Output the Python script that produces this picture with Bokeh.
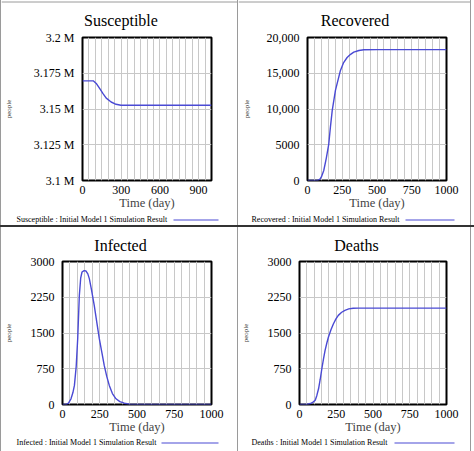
from bokeh.plotting import figure
from bokeh.layouts import column, row
from bokeh.models import Range1d, FixedTicker, Div
from bokeh.core.properties import value
from bokeh.embed import file_html
from bokeh.resources import INLINE

FONT = "'Liberation Serif', 'Times New Roman', serif"
LINE_COLOR = "#4a4ad4"
BORDER_GRAY = "#9a9a9a"

# ---- data ----
sus_t = [0, 50, 83, 109, 134, 159, 184, 222, 260, 298, 400, 600, 800, 1000]
sus_v = [3.1697e6, 3.1697e6, 3.1697e6, 3.1676e6, 3.1642e6, 3.1607e6, 3.1576e6,
         3.1549e6, 3.1533e6, 3.1526e6, 3.1526e6, 3.1526e6, 3.1526e6, 3.1526e6]

rec_t = [0, 50, 70, 88, 100, 117, 135, 153, 165, 178, 201, 237, 260, 285, 310, 333, 370, 405, 500, 1000]
rec_v = [0, 0, 0, 150, 500, 1400, 3100, 5100, 7500, 9800, 12600, 15400, 16500, 17200, 17650, 17950, 18180, 18280, 18300, 18300]

inf_t = [0, 23, 40, 57, 70, 80, 92, 102, 113, 122, 131, 145, 158, 170, 180, 195, 213, 230, 247, 265, 280, 297, 314, 335, 359, 385, 415, 450, 1000]
inf_v = [0, 0, 30, 120, 250, 400, 800, 1380, 2290, 2650, 2780, 2810, 2800, 2740, 2640, 2400, 2080, 1730, 1380, 1080, 820, 590, 400, 230, 120, 60, 27, 5, 0]

dea_t = [0, 50, 74, 90, 107, 118, 130, 141, 152, 163, 174, 186, 197, 214, 231, 248, 264, 287, 309, 335, 365, 400, 1000]
dea_v = [0, 0, 20, 45, 90, 190, 335, 530, 750, 950, 1137, 1290, 1415, 1570, 1695, 1795, 1870, 1935, 1975, 2005, 2020, 2022, 2022]

sus_yticks = [3.1e6, 3.125e6, 3.15e6, 3.175e6, 3.2e6]
sus_ylabels = ["3.1 M", "3.125 M", "3.15 M", "3.175 M", "3.2 M"]
rec_yticks = [0, 5000, 10000, 15000, 20000]
rec_ylabels = ["0", "5000", "10,000", "15,000", "20,000"]
id_yticks = [0, 750, 1500, 2250, 3000]
id_ylabels = ["0", "750", "1500", "2250", "3000"]
x_ticks_sus = [0, 300, 600, 900]
x_ticks_std = [0, 250, 500, 750, 1000]
grid_x = list(range(0, 1001, 50))

legend_suffix = " : Initial Model 1 Simulation Result"


def blank(w, h):
    f = figure(width=w, height=h, output_backend="svg", toolbar_location=None,
               x_range=Range1d(0, w), y_range=Range1d(h, 0),
               x_axis_type=None, y_axis_type=None,
               min_border=0, min_border_left=0, min_border_right=0,
               min_border_top=0, min_border_bottom=0,
               background_fill_color="white", border_fill_color="white")
    f.frame_align = False
    f.outline_line_color = None
    f.grid.visible = False
    return f


def title_fig(name, w, h, tx, ty, top_line):
    f = blank(w, h)
    f.text(x=[tx], y=[ty], text=[name], text_font=value(FONT), text_font_size="16px",
           text_align="center", text_baseline="middle", text_color="black")
    if top_line:
        f.line(x=[0, w], y=[1.5, 1.5], line_color=BORDER_GRAY, line_width=1)
    return f


def legend_fig(name, w, h, tx, line_x, ly):
    f = blank(w, h)
    f.text(x=[tx], y=[ly], text=[name + legend_suffix], text_font=value(FONT),
           text_font_size="8px", text_align="left", text_baseline="middle",
           text_color="black")
    f.line(x=list(line_x), y=[ly + 0.5, ly + 0.5], line_color=LINE_COLOR, line_width=1.2)
    return f


def main_fig(t, v, yticks, ylabels, xticks, yr, w, h, left, right, top, bottom, ystandoff):
    p = figure(width=w, height=h, output_backend="svg", toolbar_location=None,
               x_range=Range1d(0, 1000), y_range=Range1d(*yr),
               min_border_left=left, min_border_right=right,
               min_border_top=top, min_border_bottom=bottom,
               background_fill_color="white", border_fill_color="white")
    p.frame_align = False
    p.outline_line_color = "black"
    p.outline_line_width = 2
    p.outline_line_alpha = 1

    p.xaxis.ticker = FixedTicker(ticks=xticks)
    p.yaxis.ticker = FixedTicker(ticks=yticks)
    p.yaxis.major_label_overrides = {k: s for k, s in zip(yticks, ylabels)}
    p.xaxis.major_label_overrides = {k: str(k) for k in xticks}
    for ax in (p.xaxis, p.yaxis):
        ax.axis_line_color = None
        ax.major_tick_line_color = None
        ax.minor_tick_line_color = None
        ax.major_tick_out = 0
        ax.major_tick_in = 0
        ax.major_label_text_font = FONT
        ax.major_label_text_font_size = "12px"
        ax.major_label_text_color = "black"
    p.xaxis.major_label_standoff = 5
    p.yaxis.major_label_standoff = 8
    p.xaxis.axis_label = "Time (day)"
    p.xaxis.axis_label_text_font = FONT
    p.xaxis.axis_label_text_font_size = "12.5px"
    p.xaxis.axis_label_text_font_style = "normal"
    p.xaxis.axis_label_standoff = -1
    p.yaxis.axis_label = "people"
    p.yaxis.axis_label_text_font = FONT
    p.yaxis.axis_label_text_font_size = "7px"
    p.yaxis.axis_label_text_font_style = "normal"
    p.yaxis.axis_label_standoff = ystandoff

    p.xgrid.ticker = FixedTicker(ticks=grid_x)
    p.ygrid.ticker = FixedTicker(ticks=yticks)
    p.xgrid.grid_line_color = "#c8c8c8"
    p.ygrid.grid_line_color = "#c8c8c8"

    p.line(t, v, line_color=LINE_COLOR, line_width=1.4)
    return p


def panel(name, t, v, yticks, ylabels, xticks, yr, w, top_row, left, right, tx, leg_x, leg_line, ystandoff):
    if top_row:
        th, mtop, mbot, lh, ty = 30, 7, 34, 11, 20
    else:
        th, mtop, mbot, lh, ty = 28, 6, 34, 13, 18
    mh = mtop + 143 + mbot
    tf = title_fig(name, w, th, tx, ty, top_row)
    mf = main_fig(t, v, yticks, ylabels, xticks, yr, w, mh, left, right, mtop, mbot, ystandoff)
    lf = legend_fig(name, w, lh, leg_x, leg_line, 4)
    return column(tf, mf, lf, spacing=0)


p1 = panel("Susceptible", sus_t, sus_v, sus_yticks, sus_ylabels, x_ticks_sus, (3.1e6, 3.2e6),
           236, True, 78, 26, 119.5, 15, (172, 217), 18)
p2 = panel("Recovered", rec_t, rec_v, rec_yticks, rec_ylabels, x_ticks_std, (0, 20000),
           232, True, 69, 24, 116.5, 13, (167, 216), 13)
p3 = panel("Infected", inf_t, inf_v, id_yticks, id_ylabels, x_ticks_std, (0, 3000),
           236, False, 60, 26, 119, 15, (160, 217), 15)
p4 = panel("Deaths", dea_t, dea_v, id_yticks, id_ylabels, x_ticks_std, (0, 3000),
           232, False, 59, 24, 118, 13, (156, 216), 15)


def vline(h, color=BORDER_GRAY, w=1):
    return Div(width=w, height=h, margin=0, styles={"background-color": color})


hdiv = Div(width=474, height=2, margin=0, styles={"background-color": "#333333"})

layout = column(
    row(vline(225), p1, vline(225), p2, vline(225), vline(225, "white", 3), spacing=0),
    hdiv,
    row(vline(224), p3, vline(224), p4, vline(224), vline(224, "white", 3), spacing=0),
    spacing=0)

with open("out.html", "w") as f:
    f.write(file_html(layout, INLINE))
